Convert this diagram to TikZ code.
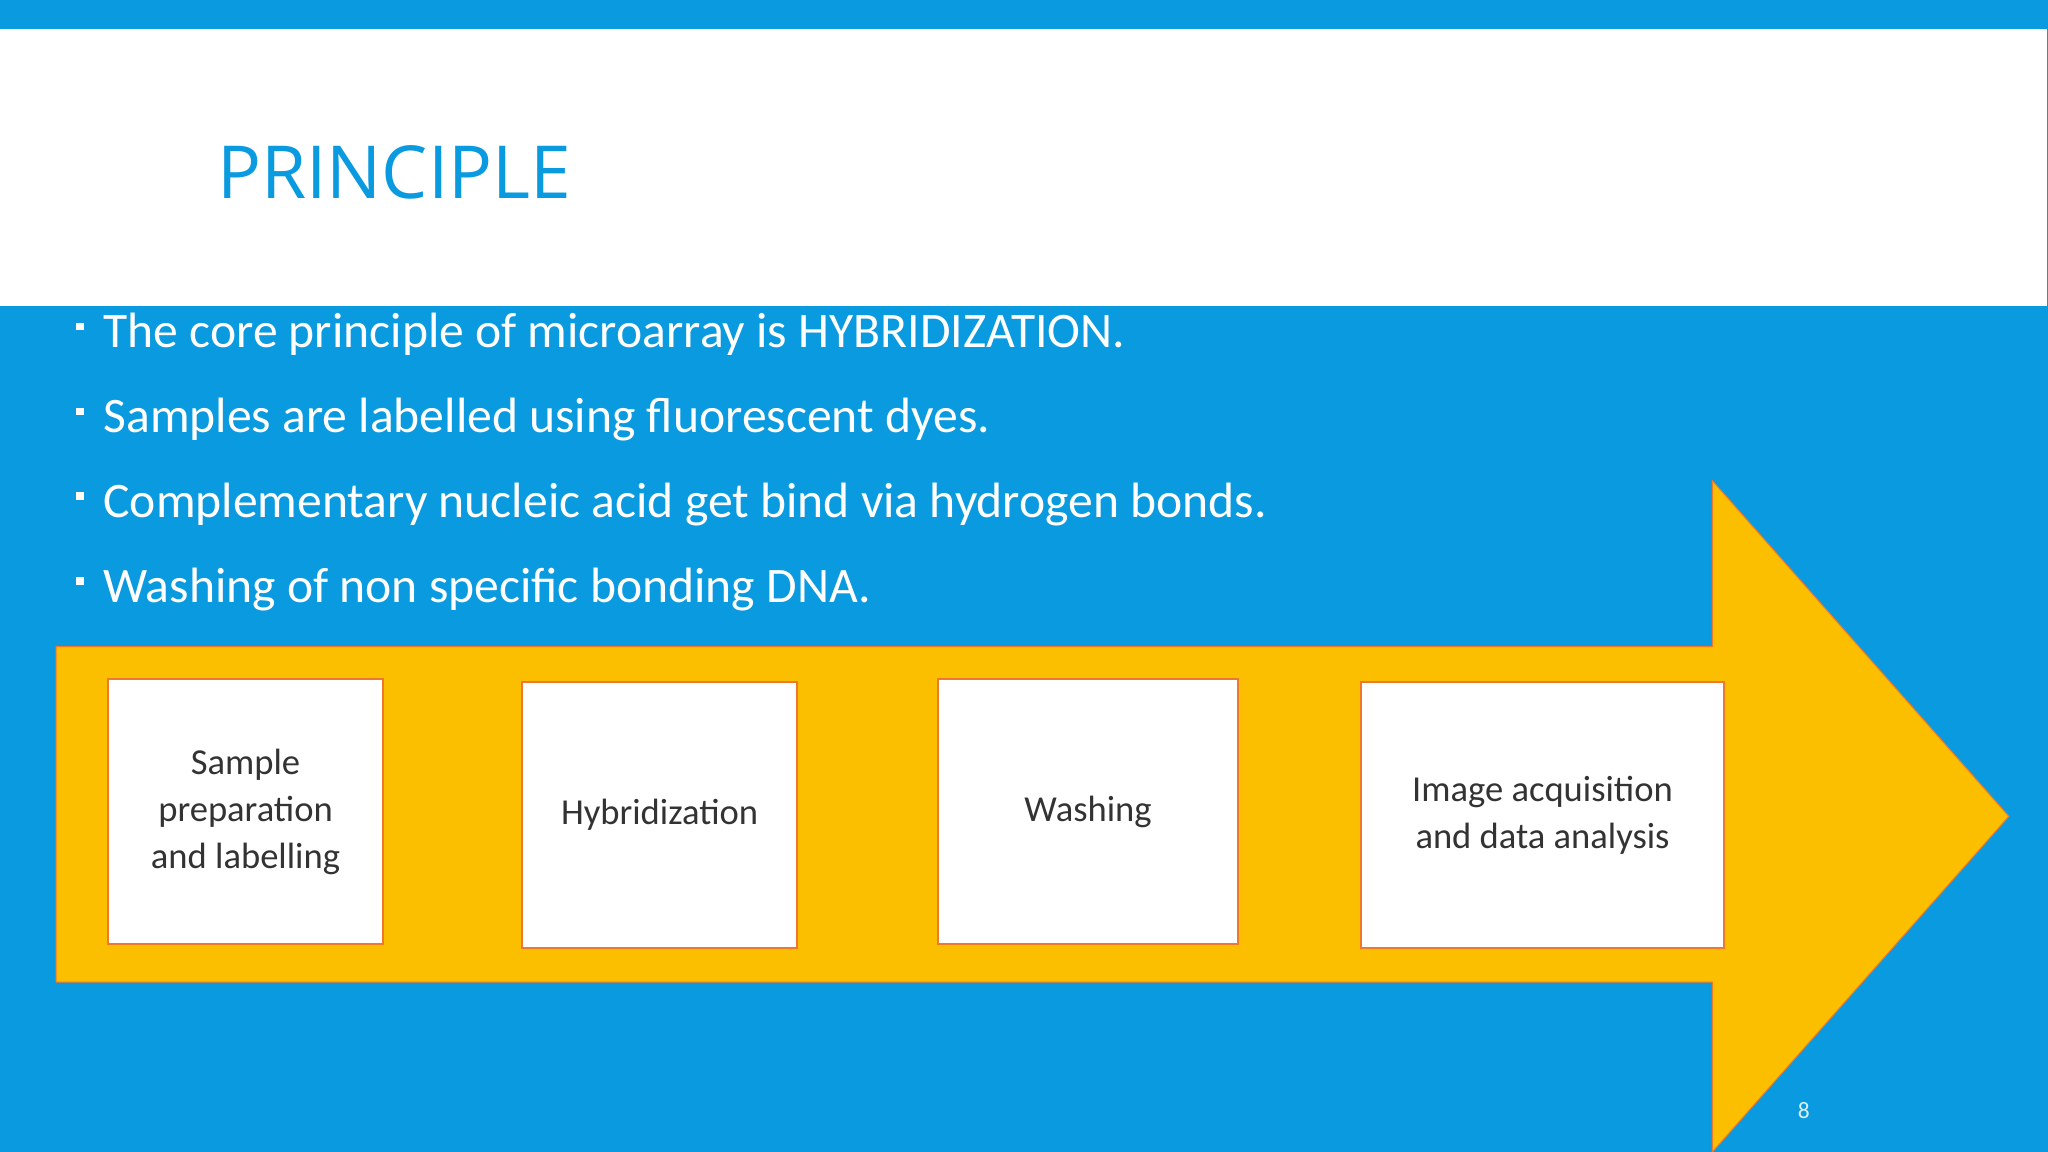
\documentclass[tikz,border=0pt]{standalone}
\usepackage{fontspec}
\setmainfont{Carlito}
\newfontfamily\titlefont{Open Sans}
\definecolor{bg}{HTML}{0A9ADF}
\definecolor{ylw}{HTML}{FCBF00}
\definecolor{org}{HTML}{F0782A}
\begin{document}
\begin{tikzpicture}[x=1pt,y=-1pt,
  stepbox/.style={draw=org,line width=1.5pt,fill=white,align=center,inner sep=0pt,font=\fontsize{28}{36}\selectfont,text=black!80},
  bullet/.style={anchor=west,text=white,font=\fontsize{38}{44}\selectfont,inner sep=0pt}]
\useasboundingbox (0,0) rectangle (1568,882);
\fill[bg] (0,0) rectangle (1568,882);
\fill[white] (0,22) rectangle (1567,234);
\node[anchor=base west,inner sep=0pt,text=bg,font=\titlefont\fontsize{56}{60}\selectfont] (title) at (166,152) {PRINCIPLE};
\foreach \y/\t [count=\i] in {256/The core principle of microarray is HYBRIDIZATION.,321/Samples are labelled using fluorescent dyes.,386/Complementary nucleic acid get bind via hydrogen bonds.,451/Washing of non specific bonding DNA.}{
  \fill[white] (58,\y-9) rectangle (64,\y-3);
  \node[bullet] (b\i) at (79,\y) {\t};
}
\draw[org,fill=ylw,line width=0.8pt] (43,495) -- (1311,495) -- (1311,368) -- (1538,625) -- (1311,882) -- (1311,752) -- (43,752) -- cycle;
\node[stepbox,minimum width=210,minimum height=203] (s1) at (188,621.5) {Sample\\preparation\\and labelling};
\node[stepbox,minimum width=210,minimum height=204] (s2) at (505,624) {Hybridization};
\node[stepbox,minimum width=230,minimum height=203] (s3) at (833,621.5) {Washing};
\node[stepbox,minimum width=278,minimum height=204] (s4) at (1181,624) {Image acquisition\\and data analysis};
\node[text=white!85!bg,font=\fontsize{18}{20}\selectfont] (pg) at (1381,850) {8};
\end{tikzpicture}
\end{document}
